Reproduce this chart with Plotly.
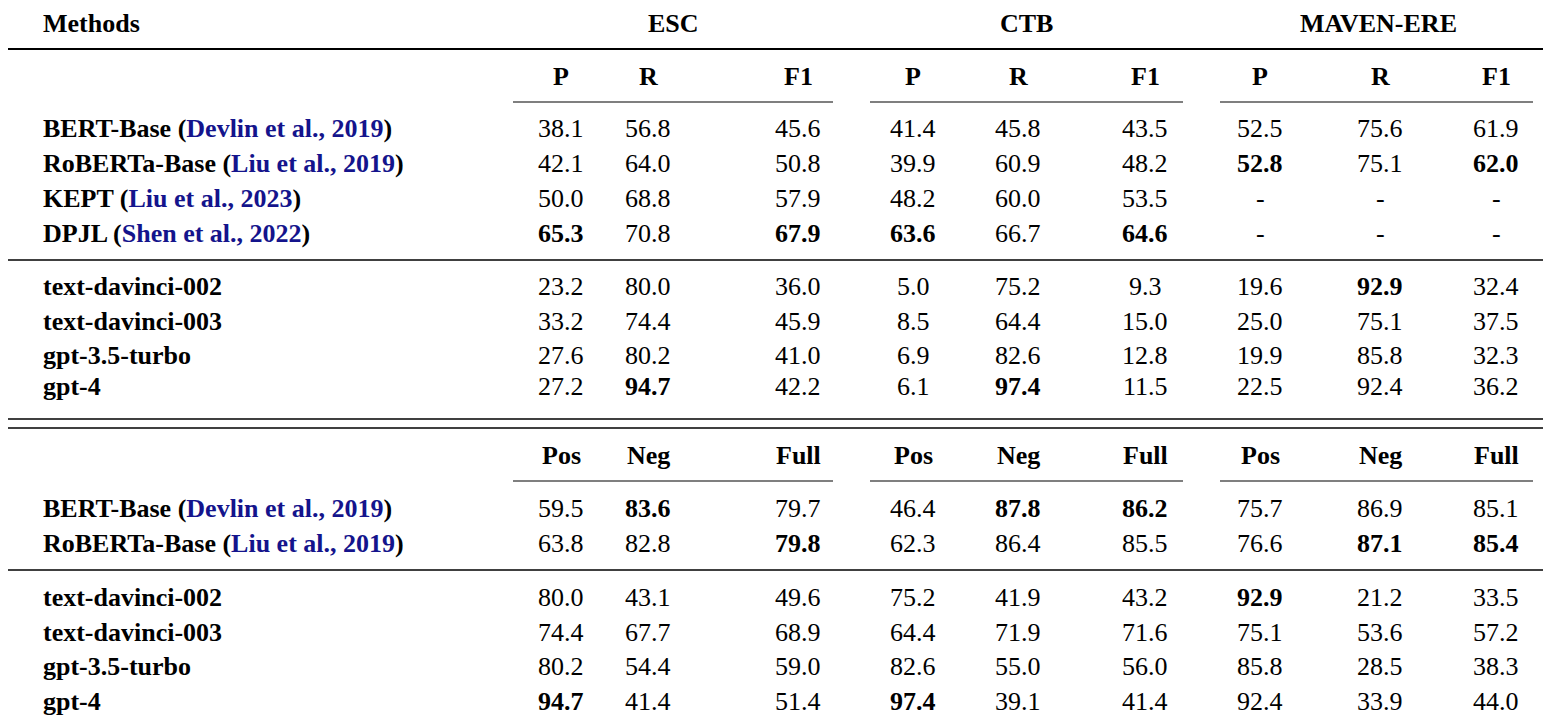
import plotly.graph_objects as go

datasets = ["ESC", "CTB", "MAVEN-ERE"]
metrics_top = ["P", "R", "F1"]
metrics_bot = ["Pos", "Neg", "Full"]

top_methods = [("BERT-Base", "Devlin et al., 2019"), ("RoBERTa-Base", "Liu et al., 2019"),
               ("KEPT", "Liu et al., 2023"), ("DPJL", "Shen et al., 2022"),
               ("text-davinci-002", None), ("text-davinci-003", None),
               ("gpt-3.5-turbo", None), ("gpt-4", None)]
top_values = [
    ["38.1", "56.8", "45.6", "41.4", "45.8", "43.5", "52.5", "75.6", "61.9"],
    ["42.1", "64.0", "50.8", "39.9", "60.9", "48.2", "52.8", "75.1", "62.0"],
    ["50.0", "68.8", "57.9", "48.2", "60.0", "53.5", "-", "-", "-"],
    ["65.3", "70.8", "67.9", "63.6", "66.7", "64.6", "-", "-", "-"],
    ["23.2", "80.0", "36.0", "5.0", "75.2", "9.3", "19.6", "92.9", "32.4"],
    ["33.2", "74.4", "45.9", "8.5", "64.4", "15.0", "25.0", "75.1", "37.5"],
    ["27.6", "80.2", "41.0", "6.9", "82.6", "12.8", "19.9", "85.8", "32.3"],
    ["27.2", "94.7", "42.2", "6.1", "97.4", "11.5", "22.5", "92.4", "36.2"],
]
top_bold = [(1, 6), (1, 8), (3, 0), (3, 2), (3, 3), (3, 5), (4, 7), (7, 1), (7, 4)]

bot_methods = [("BERT-Base", "Devlin et al., 2019"), ("RoBERTa-Base", "Liu et al., 2019"),
               ("text-davinci-002", None), ("text-davinci-003", None),
               ("gpt-3.5-turbo", None), ("gpt-4", None)]
bot_values = [
    ["59.5", "83.6", "79.7", "46.4", "87.8", "86.2", "75.7", "86.9", "85.1"],
    ["63.8", "82.8", "79.8", "62.3", "86.4", "85.5", "76.6", "87.1", "85.4"],
    ["80.0", "43.1", "49.6", "75.2", "41.9", "43.2", "92.9", "21.2", "33.5"],
    ["74.4", "67.7", "68.9", "64.4", "71.9", "71.6", "75.1", "53.6", "57.2"],
    ["80.2", "54.4", "59.0", "82.6", "55.0", "56.0", "85.8", "28.5", "38.3"],
    ["94.7", "41.4", "51.4", "97.4", "39.1", "41.4", "92.4", "33.9", "44.0"],
]
bot_bold = [(0, 1), (0, 4), (0, 5), (1, 2), (1, 7), (1, 8), (2, 6), (5, 0), (5, 3)]

# layout positions (pixels)
col_x = [553, 640, 790, 905, 1010, 1137, 1252, 1372, 1488]
group_x = [665, 1018, 1370]
group_span = [(505, 825), (862, 1175), (1212, 1525)]
left_x = 33
top_rows_y = [120, 155, 190, 225, 278, 313, 347, 378]
bot_rows_y = [500, 535, 589, 624, 658, 693]
FS = 26
FONT = "Liberation Serif, Times New Roman, Times, serif"
NAVY = "#14148c"

fig = go.Figure()
ann = []
def txt(x, y, s, anchor="center", bold=False):
    ann.append(dict(x=x, y=y, text=f"<b>{s}</b>" if bold else s, xref="x", yref="y",
                    showarrow=False, xanchor=anchor, yanchor="middle",
                    font=dict(family=FONT, size=FS, color="black")))

def method_text(name, cit):
    if cit:
        return f"{name} (<span style='color:{NAVY}'>{cit}</span>)"
    return name

txt(left_x, 15, "Methods", "left", True)
for gx, d in zip(group_x, datasets):
    txt(gx, 15, d, bold=True)
for i, m in enumerate(metrics_top * 3):
    txt(col_x[i], 68, m, bold=True)
for i, m in enumerate(metrics_bot * 3):
    txt(col_x[i], 447, m, bold=True)

for r, (mth, vals) in enumerate(zip(top_methods, top_values)):
    txt(left_x, top_rows_y[r], method_text(*mth), "left", True)
    for c, v in enumerate(vals):
        txt(col_x[c], top_rows_y[r], v, bold=(r, c) in top_bold)
for r, (mth, vals) in enumerate(zip(bot_methods, bot_values)):
    txt(left_x, bot_rows_y[r], method_text(*mth), "left", True)
    for c, v in enumerate(vals):
        txt(col_x[c], bot_rows_y[r], v, bold=(r, c) in bot_bold)

shapes = []
def hline(y, x0=0, x1=1551, w=1.5):
    shapes.append(dict(type="line", xref="x", yref="y", x0=x0, x1=x1, y0=y, y1=y,
                       line=dict(color="black", width=w)))
hline(41, w=2)
for a, b in group_span:
    hline(94, a, b, 1.2)
    hline(473, a, b, 1.2)
hline(252)
hline(411)
hline(420)
hline(562)
hline(721, w=3)

fig.update_layout(width=1551, height=725, margin=dict(l=0, r=0, t=0, b=0),
                  paper_bgcolor="white", plot_bgcolor="white",
                  font=dict(family=FONT),
                  annotations=ann, shapes=shapes, showlegend=False,
                  xaxis=dict(range=[0, 1551], visible=False, fixedrange=True),
                  yaxis=dict(range=[725, 0], visible=False, fixedrange=True))
fig.write_html("out.html", config={"displayModeBar": False})
